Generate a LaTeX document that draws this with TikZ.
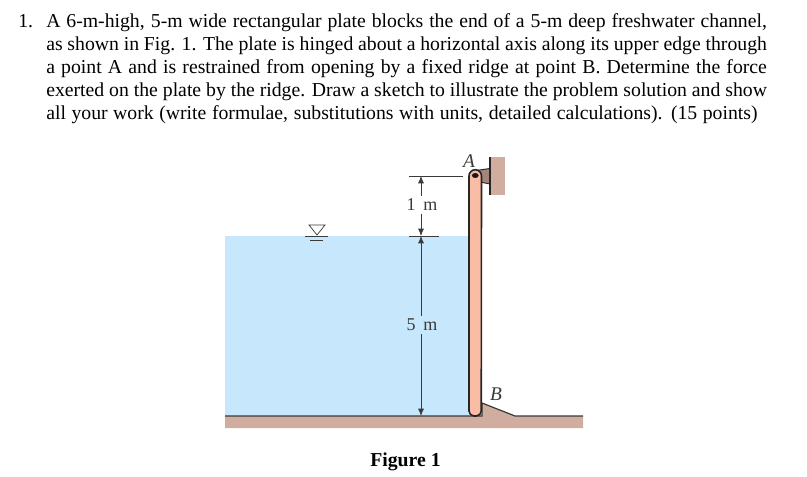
\documentclass[tikz,border=0pt]{standalone}
\usepackage{fontspec}
\setmainfont{Liberation Serif}
\usetikzlibrary{arrows.meta}
\definecolor{water}{HTML}{C7E8FC}
\definecolor{ground}{HTML}{D1AD9F}
\definecolor{plate}{HTML}{F9BDA5}
\definecolor{bracket}{HTML}{A5857B}
\definecolor{ink}{HTML}{3A3A3A}
\newcommand{\fullline}[1]{\makebox[540.5pt][s]{#1}}
\tikzset{
  txt/.style={anchor=base west,inner sep=0pt,font=\fontsize{14.8}{17}\selectfont,text=black},
  lab/.style={inner sep=0pt,font=\fontsize{13.5}{15}\selectfont,text=ink},
  ital/.style={inner sep=0pt,font=\fontsize{14.5}{16}\selectfont\itshape,text=ink},
  dim/.style={draw=ink,line width=0.55pt},
  dimarrow/.style={dim,-{Latex[length=5.5pt,width=4.5pt]}},
  ext/.style={draw=ink,line width=0.55pt}
}
\begin{document}
\begin{tikzpicture}[x=0.75pt,y=-0.75pt]
\useasboundingbox (0,0) rectangle (807,477);
% text
\node[txt] (n) at (18,28) {1.};
\node[txt] (l1) at (46,28) {\fullline{A 6-m-high, 5-m wide rectangular plate blocks the end of a 5-m deep freshwater channel,}};
\node[txt] (l2) at (46,51) {\fullline{as shown in Fig. 1. The plate is hinged about a horizontal axis along its upper edge through}};
\node[txt] (l3) at (46,74) {\fullline{a point A and is restrained from opening by a fixed ridge at point B. Determine the force}};
\node[txt] (l4) at (46,97) {\fullline{exerted on the plate by the ridge. Draw a sketch to illustrate the problem solution and show}};
\node[txt] (l5) at (46,120) {\makebox[533.5pt][s]{all your work (write formulae, substitutions with units, detailed calculations). (15 points)}};
% water
\fill[water] (225,236) rectangle (469,416);
% ground
\fill[ground] (225,416) -- (482,416) -- (482,403) -- (515,416) -- (583,416) -- (583,428) -- (225,428) -- cycle;
\draw[ink,line width=0.9pt] (225,416) -- (482,416) -- (482,403) -- (515,416) -- (583,416);
% wall and bracket
\fill[ground] (490,157) rectangle (505,195);
\fill[bracket] (476,170.5) -- (490,168.5) -- (490,184) -- (480,182) -- cycle;
\draw[black!85,line width=1.1pt] (490,157) -- (490,195);
\draw[black!85,line width=0.7pt] (476,170.5) -- (490,168.5) (480,182) -- (490,184);
% plate
\draw[black!85,fill=plate,line width=1.2pt] (469,176) arc[start angle=180,end angle=360,radius=6.25] -- (481.25,411) arc[start angle=0,end angle=90,radius=5] -- (474,416) arc[start angle=90,end angle=180,radius=5] -- cycle;
\fill[black!90] (475.25,175.5) ellipse[x radius=3.4,y radius=2.5];
% dimensions
\coordinate (topL) at (409,176);
\coordinate (topR) at (463,176);
\coordinate (watL) at (409,236);
\coordinate (watR) at (439,236);
\coordinate (bot) at (421,416);
\coordinate (t) at (421,176);
\coordinate (w) at (421,236);
\draw[ext] (topL) -- (topR);
\draw[ext] (watL) -- (watR);
\node[lab] (one) at (422,205) {1\hspace{2.5pt} m};
\node[lab] (five) at (422,325) {5\hspace{2.5pt} m};
\draw[dimarrow] (one.north -| t) ++(0,-3) coordinate (a1) -- (t);
\draw[dimarrow] (one.south -| w) ++(0,3) coordinate (a2) -- (w);
\draw[dimarrow] (five.north -| w) ++(0,-3) coordinate (a3) -- (w);
\draw[dimarrow] (five.south -| bot) ++(0,3) coordinate (a4) -- (bot);
% labels
\node[ital] (A) at (469,161.5) {A};
\node[ital] (B) at (496,394.5) {B};
% water surface symbol
\coordinate (s1) at (309,225);
\coordinate (s2) at (325,225);
\coordinate (s3) at (317,235);
\draw[draw=ink,line width=0.55pt,fill=white] (s1) -- (s2) -- (s3) -- cycle;
\draw[ink,line width=0.55pt] (305,236.5) -- (328,236.5);
\draw[ink,line width=0.55pt] (310,240) -- (323,240);
\node[anchor=base,inner sep=0pt,font=\fontsize{14.8}{17}\selectfont\bfseries] (fig) at (405.5,466) {Figure 1};
\end{tikzpicture}
\end{document}
